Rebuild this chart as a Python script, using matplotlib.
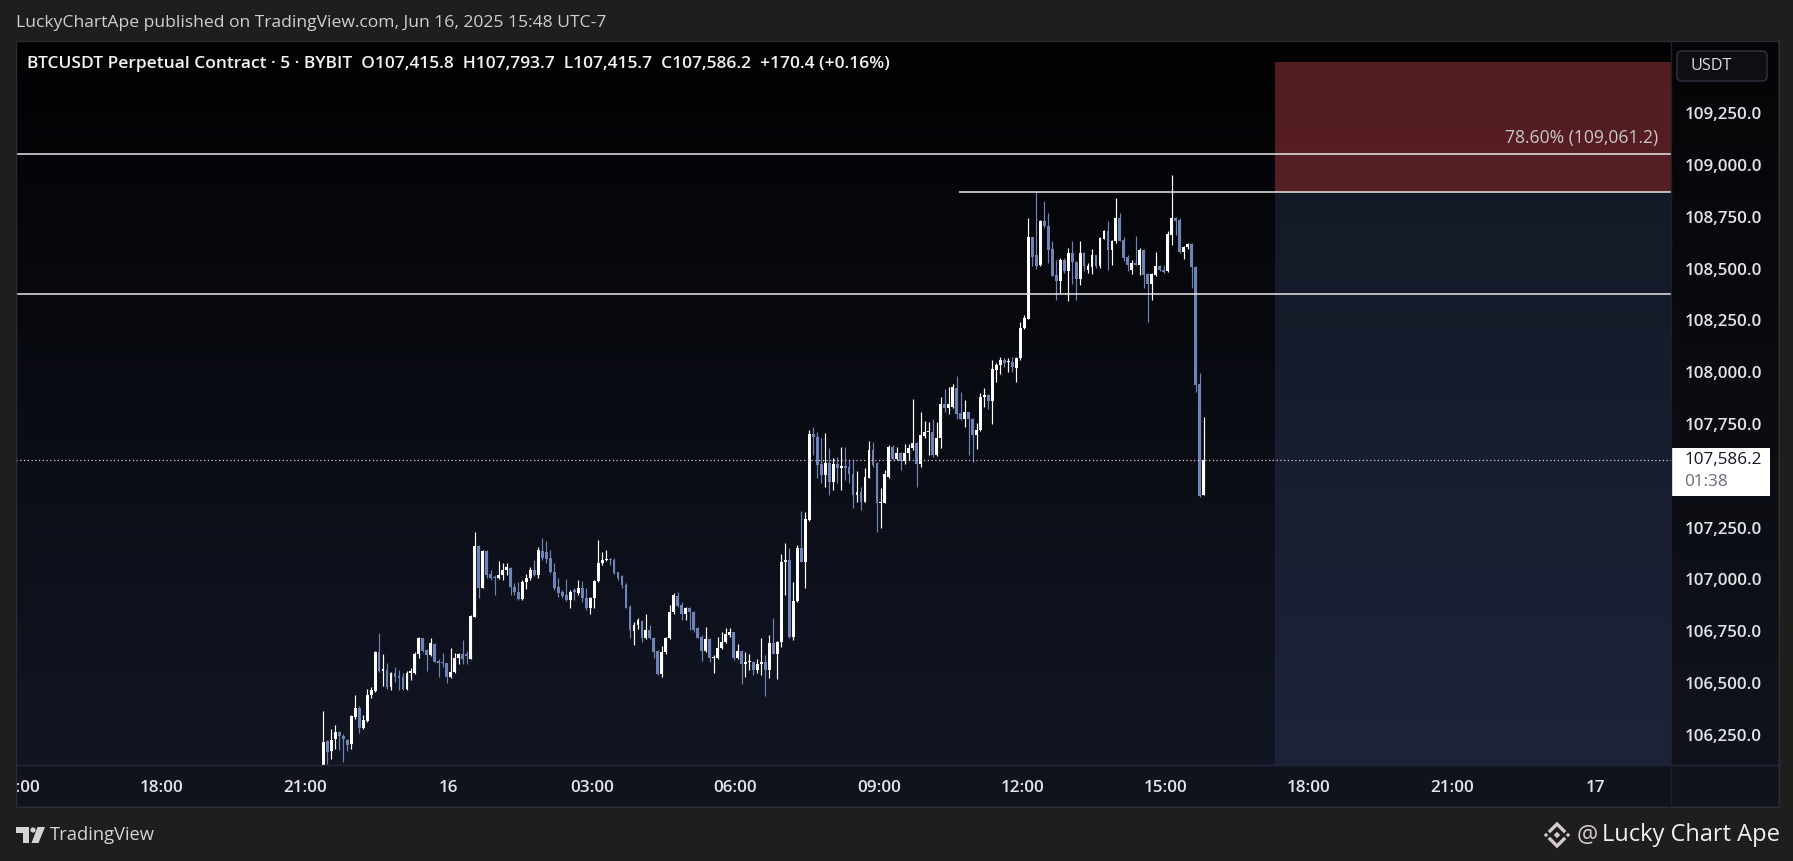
import matplotlib
matplotlib.use("Agg")
import matplotlib.pyplot as plt
import numpy as np
from matplotlib.patches import Rectangle, FancyBboxPatch, Polygon, Circle
from matplotlib.colors import LinearSegmentedColormap

# ------------------------------------------------------------------ data
opens = [106100,106229,106183,106239,106272,106256,106236,106213,106346,106391,
         106293,106326,106451,106470,106657,106567,106572,106492,106556,106543,
         106540,106482,106557,106557,106652,106725,106669,106644,106698,106617,
         106611,106605,106540,106562,106630,106648,106651,106624,106830,107173,
         106966,107147,107038,107022,107014,107030,107057,107065,106973,106951,
         106917,106998,107014,107054,107033,107147,107143,107111,107047,106974,
         106950,106934,106910,106958,106942,106966,106921,106870,106918,107000,
         107087,107103,107108,107103,107044,107027,106985,106878,106760,106789,
         106810,106725,106765,106728,106663,106551,106657,106725,106850,106931,
         106886,106845,106873,106853,106773,106733,106663,106721,106628,106632,
         106677,106709,106741,106754,106628,106663,106599,106609,106612,106572,
         106599,106612,106572,106705,106652,106709,107095,107103,106733,106905,
         107163,107095,107296,107710,107699,107565,107514,107570,107481,107565,
         107546,107559,107554,107517,107417,107433,107385,107501,107634,107570,
         107377,107380,107505,107650,107591,107618,107581,107618,107642,107666,
         107565,107703,107720,107723,107610,107691,107855,107836,107844,107935,
         107811,107784,107816,107784,107707,107731,107892,107900,107871,108021,
         108045,108069,108058,108058,108032,108077,108222,108267,108660,108576,
         108525,108737,108713,108605,108480,108451,108552,108496,108587,108541,
         108460,108584,108504,108515,108573,108520,108654,108689,108600,108641,
         108753,108649,108568,108504,108536,108528,108599,108483,108434,108480,
         108520,108504,108496,108673,108753,108745,108589,108616,108628,108515,
         107951,107415.8]
highs = [106374,106235,106290,106309,106280,106262,106240,106354,106451,106400,
         106354,106483,106491,106663,106752,106648,106604,106564,106588,106570,
         106559,106566,106583,106660,106733,106728,106672,106725,106701,106625,
         106653,106608,106680,106653,106653,106716,106662,106838,107240,107176,
         107151,107151,107054,107030,107098,107087,107087,107070,106990,106996,
         107006,107038,107070,107103,107167,107211,107195,107151,107087,107014,
         106958,107011,106958,106966,107006,107001,106966,106925,107006,107200,
         107143,107151,107111,107111,107047,107031,106990,106886,106805,106821,
         106813,106845,106789,106733,106668,106688,106733,106886,106942,106950,
         106902,106878,106878,106857,106781,106741,106781,106725,106647,106733,
         106754,106773,106773,106757,106696,106668,106660,106652,106615,106624,
         106728,106644,106741,106824,106712,107130,107184,107163,106998,107176,
         107340,107336,107731,107747,107723,107691,107715,107642,107594,107602,
         107650,107650,107586,107586,107533,107457,107545,107678,107675,107578,
         107449,107538,107658,107658,107650,107626,107662,107662,107881,107674,
         107816,107776,107767,107784,107768,107892,107929,107940,107951,107993,
         107913,107876,107819,107787,107763,107908,107932,107903,108069,108053,
         108085,108077,108077,108085,108085,108254,108286,108753,108664,108882,
         108745,108837,108777,108641,108552,108560,108560,108608,108644,108544,
         108641,108589,108536,108605,108576,108660,108697,108737,108649,108850,
         108777,108660,108576,108552,108669,108608,108605,108488,108488,108592,
         108528,108525,108689,108963,108761,108753,108620,108633,108633,108520,
         108005,107793.7]
lows = [106080,106118,106142,106193,106187,106130,106183,106191,106338,106270,
        106287,106322,106435,106467,106564,106493,106480,106477,106515,106477,
        106474,106474,106525,106554,106628,106657,106569,106641,106609,106541,
        106587,106511,106535,106559,106600,106600,106600,106624,106830,106921,
        106966,107014,107006,106936,107011,107006,107033,106933,106933,106909,
        106909,106965,107006,107027,107014,107103,107087,107039,106958,106926,
        106918,106905,106873,106910,106934,106902,106862,106845,106870,106998,
        107079,107100,107079,107034,107006,106966,106870,106725,106692,106768,
        106709,106721,106721,106628,106548,106540,106652,106721,106845,106878,
        106813,106816,106765,106757,106725,106615,106660,106609,106556,106625,
        106672,106705,106733,106620,106625,106507,106540,106572,106548,106556,
        106548,106448,106532,106648,106531,106685,106934,106728,106717,106902,
        107092,106966,107291,107610,107501,107473,107457,107417,107441,107473,
        107441,107489,107473,107353,107385,107345,107382,107497,107554,107240,
        107256,107377,107500,107586,107586,107538,107565,107586,107634,107457,
        107554,107691,107610,107602,107607,107642,107819,107810,107836,107784,
        107779,107747,107610,107578,107639,107727,107844,107832,107758,107961,
        108000,108037,108013,108013,107964,108069,108219,108264,108520,108509,
        108520,108705,108536,108472,108359,108391,108488,108354,108434,108359,
        108431,108496,108488,108483,108512,108512,108651,108504,108528,108633,
        108641,108544,108496,108483,108525,108480,108415,108254,108359,108476,
        108499,108488,108492,108624,108673,108584,108557,108605,108415,107916,
        107409,107415.7]
closes = [106226,106178,106236,106272,106256,106239,106210,106348,106391,106293,
          106330,106454,106475,106660,106567,106577,106492,106556,106540,106535,
          106483,106559,106567,106652,106725,106664,106644,106702,106612,106605,
          106605,106540,106562,106632,106648,106624,106638,106834,107173,106966,
          107147,107033,107014,107014,107033,107057,107069,106973,106949,106917,
          106998,107017,107054,107033,107151,107111,107108,107047,106966,106942,
          106931,106910,106950,106950,106966,106918,106870,106921,107002,107087,
          107103,107108,107103,107039,107018,106982,106873,106765,106789,106813,
          106725,106765,106725,106660,106551,106660,106728,106850,106934,106882,
          106845,106873,106853,106765,106728,106663,106721,106628,106636,106677,
          106709,106744,106754,106628,106663,106599,106609,106612,106572,106599,
          106612,106572,106705,106652,106709,107095,107103,106733,106905,107163,
          107095,107301,107710,107699,107562,107514,107570,107481,107565,107546,
          107559,107549,107517,107417,107433,107385,107505,107634,107562,107377,
          107385,107517,107650,107591,107618,107581,107618,107646,107666,107565,
          107707,107720,107726,107610,107694,107855,107836,107855,107940,107807,
          107784,107816,107784,107707,107731,107892,107900,107871,108025,108045,
          108069,108053,108064,108037,108080,108225,108270,108660,108568,108520,
          108737,108713,108600,108476,108451,108552,108496,108587,108541,108460,
          108584,108520,108520,108573,108520,108657,108689,108600,108641,108753,
          108644,108563,108528,108536,108528,108599,108480,108434,108483,108520,
          108504,108492,108676,108753,108740,108589,108616,108628,108515,107948,
          107414,107586.2]

last_price = 107586.2
fib_level = 109061.2
fib_label = "78.60% (109,061.2)"
entry_level = 108880.0
support_level = 108385.0
stop_level = 109507.0
target_level = 105800.0
entry_line_start_bar = 159.5
position_start_bar = 238.9

price_ticks = [109250, 109000, 108750, 108500, 108250, 108000,
               107750, 107250, 107000, 106750, 106500, 106250]
time_tick_labels = ["15:00", "18:00", "21:00", "16", "03:00", "06:00",
                    "09:00", "12:00", "15:00", "18:00", "21:00", "17"]
time_tick_bars = [-76.5, -40.5, -4.5, 31.5, 67.5, 103.5,
                  139.5, 175.5, 211.5, 247.5, 283.5, 319.5]

header_text = "LuckyChartApe published on TradingView.com, Jun 16, 2025 15:48 UTC-7"
symbol_text = ("BTCUSDT Perpetual Contract \u00b7 5 \u00b7 BYBIT  O107,415.8  H107,793.7  "
               "L107,415.7  C107,586.2  +170.4 (+0.16%)")
countdown = "01:38"
currency = "USDT"

# ------------------------------------------------------------------ layout
W, H, DPI = 1793, 861, 100
plt.rcParams['font.family'] = ['Open Sans', 'DejaVu Sans']

fig = plt.figure(figsize=(W / DPI, H / DPI), dpi=DPI)
fig.patch.set_facecolor('#1e1e1e')


def frac(x0, y0, x1, y1):
    return [x0 / W, 1 - y1 / H, (x1 - x0) / W, (y1 - y0) / H]


PX_PER_BAR = 3.983
X0_PX = 323.3
PX_PER_PRICE = 0.2072
PLOT_L, PLOT_T, PLOT_R, PLOT_B = 16, 41, 1671, 765
PANEL_R, PANEL_B = 1778, 806

xlim = ((PLOT_L - X0_PX) / PX_PER_BAR, (PLOT_R - X0_PX) / PX_PER_BAR)
ylim = (109000 - (PLOT_B - 167) / PX_PER_PRICE, 109000 + (167 - PLOT_T) / PX_PER_PRICE)


def vgrad(ax, top, bottom, extent):
    cm = LinearSegmentedColormap.from_list('g', [top, bottom])
    ax.imshow(np.linspace(0, 1, 256)[:, None], cmap=cm, aspect='auto',
              extent=extent, origin='upper', zorder=0, interpolation='bilinear')


# main plot
ax = fig.add_axes(frac(PLOT_L, PLOT_T, PLOT_R, PLOT_B))
vgrad(ax, '#020203', '#121624', [xlim[0], xlim[1], ylim[0], ylim[1]])
ax.set_xlim(*xlim)
ax.set_ylim(*ylim)
ax.axis('off')

# position tool boxes
box_w = xlim[1] - position_start_bar + 5
ax.add_patch(Rectangle((position_start_bar, entry_level), box_w, stop_level - entry_level,
                       facecolor=(242 / 255, 80 / 255, 88 / 255, 0.34), lw=0, zorder=1))
ax.add_patch(Rectangle((position_start_bar, target_level), box_w, entry_level - target_level,
                       facecolor=(52 / 255, 65 / 255, 100 / 255, 0.33), lw=0, zorder=1))

# candles
o = np.array(opens, float)
h = np.array(highs, float)
l = np.array(lows, float)
c = np.array(closes, float)
idx = np.arange(len(o))
UP, DOWN = '#ffffff', '#6f84b6'
cols = np.where(c >= o, UP, DOWN)
body_lo = np.minimum(o, c)
body_h = np.maximum(np.abs(c - o), 4.5)
ax.vlines(idx, np.minimum(l, body_lo), np.maximum(h, np.maximum(o, c)),
          colors=cols, linewidth=0.85, zorder=3)
ax.bar(idx, body_h, bottom=body_lo, width=0.72, color=cols, linewidth=0, zorder=4)

# horizontal drawings
LINE_C = '#e6e6e6'
ax.axhline(fib_level, color=LINE_C, lw=1.1, zorder=5)
ax.hlines(entry_level, entry_line_start_bar, xlim[1], color=LINE_C, lw=1.1, zorder=5)
ax.axhline(support_level, color=LINE_C, lw=1.1, zorder=5)
ax.axhline(last_price, color='#cfd2da', lw=0.9, ls=(0, (1, 2)), zorder=5)
fib_txt = ax.annotate(fib_label, xy=((1658 - X0_PX) / PX_PER_BAR, fib_level),
                      xytext=(0, 16 * 0.72), textcoords='offset points',
                      ha='right', va='center', color='#c8c8c8', fontsize=11, zorder=6)

# right price axis
axR = fig.add_axes(frac(PLOT_R, PLOT_T, PANEL_R, PLOT_B))
vgrad(axR, '#050507', '#10131c', [0, PANEL_R - PLOT_R, ylim[0], ylim[1]])
axR.set_xlim(0, PANEL_R - PLOT_R)
axR.set_ylim(*ylim)
axR.axis('off')
tick_txts = []
for p in price_ticks:
    tick_txts.append(axR.text(14, p, f"{p:,.1f}", color='#e4e5ea', fontsize=11,
                              fontweight='semibold', ha='left', va='center'))
axR.add_patch(Rectangle((0, last_price - 36 / PX_PER_PRICE), 99, 48 / PX_PER_PRICE,
                        facecolor='#ffffff', lw=0, zorder=3))
lp_txt = axR.text(13, last_price, f"{last_price:,.1f}", color='#131722', fontsize=11,
                  ha='left', va='center', zorder=4)
cd_txt = axR.text(13, last_price - 22 / PX_PER_PRICE, countdown, color='#6a6d78',
                  fontsize=11, ha='left', va='center', zorder=4)

# time axis
axT = fig.add_axes(frac(PLOT_L, PLOT_B, PLOT_R, PANEL_B))
axT.set_facecolor('#10131c')
axT.set_xlim(*xlim)
axT.set_ylim(0, 1)
axT.set_xticks([]); axT.set_yticks([])
for s in axT.spines.values():
    s.set_visible(False)
time_txts = []
for b, lab in zip(time_tick_bars, time_tick_labels):
    time_txts.append(axT.text(b, 0.44, lab, color='#e4e5ea', fontsize=11,
                              fontweight='semibold', ha='center', va='center',
                              clip_on=True))

axC = fig.add_axes(frac(PLOT_R, PLOT_B, PANEL_R, PANEL_B))
axC.set_facecolor('#10131c')
axC.set_xticks([]); axC.set_yticks([])
for s in axC.spines.values():
    s.set_visible(False)

# overlay in pixel coordinates
ov = fig.add_axes([0, 0, 1, 1])
ov.set_xlim(0, W)
ov.set_ylim(H, 0)
ov.axis('off')
ov.set_zorder(10)

ov.add_patch(Rectangle((15.5, PLOT_T - 0.5), PANEL_R - 15, PANEL_B - PLOT_T + 1,
                       fill=False, edgecolor='#2a2d36', lw=1))
ov.plot([PLOT_R, PLOT_R], [PLOT_T, PANEL_B], color='#1d2029', lw=1)
ov.plot([PLOT_L, PANEL_R], [PLOT_B, PLOT_B], color='#22263a', lw=1)

# USDT box
ov.add_patch(FancyBboxPatch((1677, 51), 90, 30, boxstyle='round,pad=0,rounding_size=5',
                            facecolor='#0d0f15', edgecolor='#2a2e39', lw=1.2))
usdt_txt = ov.text(1690, 66.5, currency, color='#dcdde2', fontsize=11, ha='left', va='center')

hdr = ov.text(16, 23, header_text, color='#cfcfcf', fontsize=12, ha='left', va='center')
sym = ov.text(27, 64, symbol_text, color='#f4f4f4', fontsize=12, fontweight='semibold',
              ha='left', va='center')

# footer: TradingView logo + text
LOGO_C = '#d4d4d4'
ov.add_patch(Rectangle((16, 827), 13, 6, facecolor=LOGO_C, lw=0))
ov.add_patch(Rectangle((23, 827), 6, 16, facecolor=LOGO_C, lw=0))
ov.add_patch(Circle((33, 830), 2.6, facecolor=LOGO_C, lw=0))
ov.add_patch(Polygon([(37.5, 827), (45, 827), (38.5, 843), (31.5, 843)], closed=True,
                     facecolor=LOGO_C, lw=0))
tv_txt = ov.text(50, 835, "TradingView", color=LOGO_C, fontsize=13, ha='left', va='center')

# footer: author logo + text
BN_C = '#d8caca'
cx, cy = 1557, 835


def diamond(x, y, r):
    return Polygon([(x, y - r), (x + r, y), (x, y + r), (x - r, y)], closed=True,
                   facecolor=BN_C, lw=0)


ov.add_patch(diamond(cx, cy, 3.2))
ov.add_patch(diamond(cx - 11, cy, 2.2))
ov.add_patch(diamond(cx + 11, cy, 2.2))
ov.plot([cx - 7, cx, cx + 7], [cy - 4, cy - 11, cy - 4], color=BN_C, lw=2.4,
        solid_joinstyle='miter')
ov.plot([cx - 7, cx, cx + 7], [cy + 4, cy + 11, cy + 4], color=BN_C, lw=2.4,
        solid_joinstyle='miter')
at_txt = ov.text(1587, 836, "@", color='#d8caca', fontsize=16, ha='center', va='center')
name_txt = ov.text(1780, 835, "Lucky Chart Ape", color='#f0f0f0', fontsize=16,
                   ha='right', va='center')

# ------------------------------------------------------------------ fit text widths
renderer = fig.canvas.get_renderer()


def fit(t, target):
    w = t.get_window_extent(renderer).width
    if w > 0:
        t.set_fontsize(t.get_fontsize() * target / w)
    return t.get_fontsize()


fit(hdr, 586)
fit(sym, 865)
fs_tick = fit(tick_txts[0], 77)
for t in tick_txts:
    t.set_fontsize(fs_tick)
fit(lp_txt, 77)
cd_txt.set_fontsize(lp_txt.get_fontsize())
fs_time = fit(time_txts[1], 44)
for t in time_txts:
    t.set_fontsize(fs_time)
fit(usdt_txt, 41)
fit(fib_txt, 153)
fit(tv_txt, 105)
fs_name = fit(name_txt, 178)
at_txt.set_fontsize(fs_name)

fig.savefig("out.png", dpi=DPI, facecolor=fig.get_facecolor())
